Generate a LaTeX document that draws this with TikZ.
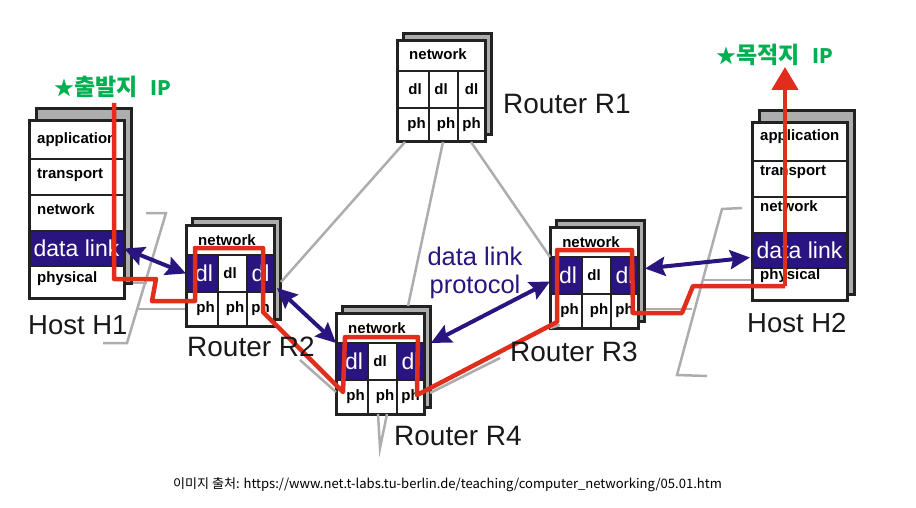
\documentclass[tikz,border=0pt]{standalone}
\usepackage{fontspec}
\setmainfont{Liberation Sans}
\newfontfamily\krfont{Noto Sans CJK KR}
\usetikzlibrary{arrows.meta}
\definecolor{dlblue}{HTML}{2A1480}
\definecolor{framegray}{HTML}{222222}
\definecolor{wiregray}{HTML}{ADADAD}
\definecolor{routered}{HTML}{E02D1C}
\definecolor{ipgreen}{HTML}{00B050}
\tikzset{
  box/.style={draw=framegray,line width=2pt,fill=white,anchor=north west,inner sep=0pt,outer sep=0pt,
    text=black,font=\fontsize{15}{17}\selectfont\bfseries},
  backbox/.style={box,fill=wiregray,line width=3pt},
  frame/.style={box,fill=none,line width=3pt},
  dlfill/.style={box,fill=dlblue,text=white,font=\fontsize{23}{25}\selectfont},
  layertext/.style={anchor=west,inner sep=0pt,font=\fontsize{15}{17}\selectfont\bfseries},
  host text/.style={anchor=west,inner sep=0pt,text=black!90,font=\fontsize{27.5}{30}\selectfont},
  router text/.style={host text,font=\fontsize{28}{30}\selectfont},
  ip text/.style={anchor=west,inner sep=0pt,text=ipgreen,font=\krfont\fontsize{23}{26}\selectfont\bfseries},
  wire/.style={draw=wiregray,line width=2.5pt},
  link/.style={draw=dlblue,line width=4pt,{Stealth[length=20pt,width=19pt,inset=3pt]}-{Stealth[length=20pt,width=19pt,inset=3pt]}},
  route/.style={draw=routered,line width=4.5pt,line join=round}
}
% name, left, top, style of the two outer dl cells, raise of network
\newcommand{\routerstack}[5]{
  \begin{scope}[shift={(#2,#3)}]
    \node[backbox,minimum width=88,minimum height=101] at (6,-7) (#1back) {};
    \node[box,minimum width=88,minimum height=30] at (0,0) (#1net) {\raisebox{#5}{network}\hspace*{6pt}};
    \node[#4,minimum width=32,minimum height=37] at (0,30) (#1dla) {\hspace*{4pt}dl};
    \node[box,minimum width=29,minimum height=37] at (32,30) (#1dlb) {dl\hspace*{5pt}};
    \node[#4,minimum width=27,minimum height=37] at (61,30) (#1dlc) {dl};
    \node[box,minimum width=32,minimum height=34] at (0,67) (#1pha) {\hspace*{7pt}ph};
    \node[box,minimum width=29,minimum height=34] at (32,67) (#1phb) {\hspace*{5pt}ph};
    \node[box,minimum width=27,minimum height=34] at (61,67) (#1phc) {ph};
    \node[frame,minimum width=88,minimum height=101] at (0,0) (#1) {};
  \end{scope}
}
% name, left, top, shift of the texts, height of back box
\newcommand{\hoststack}[5]{
  \begin{scope}[shift={(#2,#3)}]
    \node[backbox,minimum width=95,minimum height=#5] at (7,-12) (#1back) {};
    \node[box,minimum width=95,minimum height=38] at (0,0) (#1app) {};
    \node[box,minimum width=95,minimum height=36] at (0,38) (#1trans) {};
    \node[box,minimum width=95,minimum height=36] at (0,74) (#1net) {};
    \node[dlfill,minimum width=95,minimum height=35] at (0,110) (#1link) {data link};
    \node[box,minimum width=95,minimum height=32] at (0,145) (#1phy) {};
    \node[frame,minimum width=95,minimum height=177] at (0,0) (#1) {};
    \node[layertext] at (8,19+#4) (#1apptext) {application};
    \node[layertext] at (8,54+#4) (#1transtext) {transport};
    \node[layertext] at (8,88+#4) (#1nettext) {network};
    \node[layertext] at (8,158+#4) (#1phytext) {physical};
  \end{scope}
}

\begin{document}
\begin{tikzpicture}[x=1pt,y=-1pt]
    \path[use as bounding box] (0,0) rectangle (916,508);

    % gray brackets and wires behind everything
    \draw[wire] (146,213) -- (166,213) -- (127,343) -- (103,343);
    \draw[wire] (120,283) -- (147,283);
    \draw[wire] (137,309) -- (186,309);
    \draw[wire] (742,208) -- (722,209) -- (677,375) -- (707,376);
    \draw[wire] (703,280) -- (752,280);
    \draw[wire] (645,309) -- (692,309);

    \routerstack{R1}{397}{41}{box}{3pt}
    \routerstack{R2}{186}{225}{dlfill}{0pt}
    \routerstack{R3}{550}{227}{dlfill}{0pt}
    \routerstack{R4}{336}{313}{dlfill}{0pt}
    \hoststack{H1}{29}{121}{0}{174}
    \hoststack{H2}{752}{123}{-5}{183}

    \draw[wire] ([xshift=8]R1.south west) -- (281,282);
    \draw[wire] ([xshift=46]R1.south west) -- ([xshift=-22]R4back.north east);
    \draw[wire] ([xshift=-14]R1.south east) -- (R3dla.north west);
    \draw[wire] (300,360) -- ([yshift=22]R4.south west);
    \draw[wire] ([yshift=14]R4back.south east) -- (500,358);
    \draw[wire] (R3.south west) -- ++(10,-3);
    \draw[wire] ([xshift=42]R4.south west) -- (380,448) -- ([xshift=51]R4.south west);

    % data link arrows
    \draw[link] (H1link.east) -- (R2dla.west);
    \draw[link] ([shift={(3,-4)}]R2dlc.south east) -- (R4dla.north west);
    \draw[link] ([xshift=7]R4dlc.north east) -- ([yshift=-6]R3dla.west);
    \draw[link] ([shift={(7,-7)}]R3dlc.east) -- ([shift={(-2,7)}]H2link.west);

    % route of the packet
    \coordinate (src) at (114,103);
    \coordinate (dst) at (785,67);
    \draw[route] (src) -- (114,279) -- (156,279) -- (152,301) -- (195,301) -- (195,248)
      -- (263,248) -- (263,312) -- (343,392) -- (345,337) -- (418,337) -- (417,395)
      -- (557,322) -- (557,250) -- (632,250) -- (633,313) -- (682,313) -- (693,286) -- (785,286);
    \draw[route,-{Triangle[length=23pt,width=26pt]}] (785,286) -- (dst);

    \node[ip text] at (54,87) (srcip) {{\fontsize{20}{24}\selectfont ★}출발지\hspace{13pt}{\fontsize{20}{24}\selectfont IP}};
    \node[ip text] at (716,55) (dstip) {{\fontsize{20}{24}\selectfont ★}목적지\hspace{13pt}{\fontsize{20}{24}\selectfont IP}};

    \node[host text] at (28,325) (H1name) {Host H1};
    \node[host text] at (747,323) (H2name) {Host H2};
    \node[router text] at (503,104) (R1name) {Router R1};
    \node[router text] at (187,347) (R2name) {Router R2};
    \node[router text] at (510,352) (R3name) {Router R3};
    \node[router text] at (394,436) (R4name) {Router R4};

    \node[inner sep=0pt,text=dlblue,align=center,font=\fontsize{25.5}{28}\selectfont] at (475,273) (dlp) {data link\\protocol};

    \node[inner sep=0pt,font=\krfont\fontsize{13.05}{15}\selectfont] at (447.5,485) (source) {이미지 출처: https://www.net.t-labs.tu-berlin.de/teaching/computer\_networking/05.01.htm};
\end{tikzpicture}
\end{document}
